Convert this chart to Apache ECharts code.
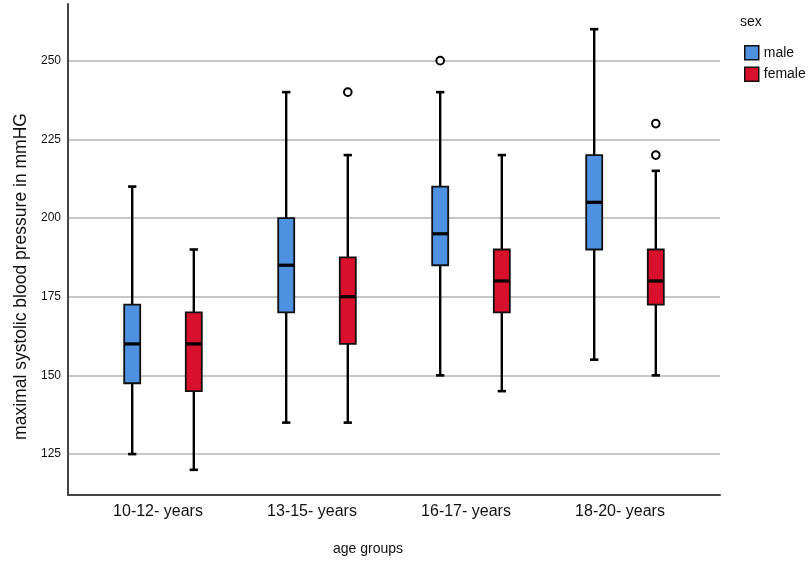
<!DOCTYPE html>
<html>
<head>
<meta charset="utf-8">
<script src="https://cdn.jsdelivr.net/npm/echarts@6/dist/echarts.min.js"></script>
<style>
html,body{margin:0;padding:0;background:#fff;}
#chart{width:810px;height:561px;}
</style>
</head>
<body>
<div id="chart"></div>
<script>
// ---- data ----
var categories = ['10-12- years', '13-15- years', '16-17- years', '18-20- years'];
var seriesNames = ['male', 'female'];
// [min, Q1, median, Q3, max]
var maleBoxes = [
  [125, 147.5, 160, 172.5, 210],
  [135, 170, 185, 200, 240],
  [150, 185, 195, 210, 240],
  [155, 190, 205, 220, 260]
];
var femaleBoxes = [
  [120, 145, 160, 170, 190],
  [135, 160, 175, 187.5, 220],
  [145, 170, 180, 190, 220],
  [150, 172.5, 180, 190, 215]
];
// [categoryIndex, value]
var maleOutliers = [[2, 250]];
var femaleOutliers = [[1, 240], [3, 230], [3, 220]];
var yTicks = [125, 150, 175, 200, 225, 250];

// ---- styling ----
var colors = { male: '#4d91e0', female: '#d8102b' };
var FONT = 'Liberation Sans, Arial, sans-serif';
var yMin = 112, yMax = 268;

function boxData(arr) {
  return arr.map(function (d, i) { return [i].concat(d); });
}

function makeBoxRender(offsetFrac) {
  return function (params, api) {
    var cat = api.value(0);
    var band = api.size([1, 0])[0];
    var cx = api.coord([cat, 0])[0] + offsetFrac * band;
    var yLo = api.coord([cat, api.value(1)])[1];
    var yQ1 = api.coord([cat, api.value(2)])[1];
    var yMed = api.coord([cat, api.value(3)])[1];
    var yQ3 = api.coord([cat, api.value(4)])[1];
    var yHi = api.coord([cat, api.value(5)])[1];
    var hw = band * 0.052;
    var cw = band * 0.027;
    var color = api.visual('color');
    var lineStyle = { stroke: '#000', lineWidth: 2.4 };
    return {
      type: 'group',
      children: [
        { type: 'line', shape: { x1: cx, y1: yHi, x2: cx, y2: yQ3 }, style: lineStyle },
        { type: 'line', shape: { x1: cx, y1: yQ1, x2: cx, y2: yLo }, style: lineStyle },
        { type: 'line', shape: { x1: cx - cw, y1: yHi, x2: cx + cw, y2: yHi }, style: { stroke: '#000', lineWidth: 2.6 } },
        { type: 'line', shape: { x1: cx - cw, y1: yLo, x2: cx + cw, y2: yLo }, style: { stroke: '#000', lineWidth: 2.6 } },
        { type: 'rect', shape: { x: cx - hw, y: yQ3, width: 2 * hw, height: yQ1 - yQ3 },
          style: { fill: color, stroke: '#111', lineWidth: 1.8 } },
        { type: 'line', shape: { x1: cx - hw, y1: yMed, x2: cx + hw, y2: yMed }, style: { stroke: '#000', lineWidth: 3.2 } }
      ]
    };
  };
}

function makeOutlierRender(offsetFrac) {
  return function (params, api) {
    var cat = api.value(0);
    var band = api.size([1, 0])[0];
    var p = api.coord([cat, api.value(1)]);
    return {
      type: 'circle',
      shape: { cx: p[0] + offsetFrac * band, cy: p[1], r: 3.8 },
      style: { fill: '#fff', stroke: '#000', lineWidth: 2 }
    };
  };
}

var chart = echarts.init(document.getElementById('chart'), null, { renderer: 'canvas' });
var option = {
  animation: false,
  backgroundColor: '#fff',
  textStyle: { fontFamily: FONT },
  title: {
    text: 'sex', left: 735, top: 10,
    textStyle: { fontSize: 14, fontWeight: 'normal', color: '#111', fontFamily: FONT }
  },
  legend: {
    orient: 'vertical', left: 739, top: 40,
    itemWidth: 14, itemHeight: 14, itemGap: 6,
    icon: 'rect',
    textStyle: { fontSize: 14, color: '#111', fontFamily: FONT },
    data: [
      { name: 'male', itemStyle: { color: colors.male, borderColor: '#111', borderWidth: 1.5 } },
      { name: 'female', itemStyle: { color: colors.female, borderColor: '#111', borderWidth: 1.5 } }
    ]
  },
  grid: [
    { left: 68, right: 90, top: 4, bottom: 66 },
    { left: 86, right: 108, top: 4, bottom: 66 }
  ],
  xAxis: [
    {
      gridIndex: 0, type: 'value', min: 0, max: 1,
      axisLine: { show: true, onZero: false, lineStyle: { color: '#444', width: 2 } },
      axisTick: { show: false }, axisLabel: { show: false }, splitLine: { show: false }
    },
    {
      gridIndex: 1, type: 'category', data: categories,
      axisLine: { show: false }, axisTick: { show: false },
      axisLabel: { fontSize: 16, color: '#111', margin: 9, fontFamily: FONT, padding: [0, 10, 0, 0] },
      name: 'age groups', nameLocation: 'middle', nameGap: 47,
      nameTextStyle: { fontSize: 14, color: '#111', fontFamily: FONT, padding: [0, 52, 0, 0] }
    }
  ],
  yAxis: [
    {
      gridIndex: 0, type: 'value', min: yMin, max: yMax,
      axisLine: { show: true, lineStyle: { color: '#444', width: 2 } },
      axisTick: { show: false, customValues: yTicks },
      axisLabel: { customValues: yTicks, fontSize: 12, color: '#111', margin: 7, fontFamily: FONT },
      splitLine: { show: true, lineStyle: { color: '#b4b4b4', width: 1.5 } },
      name: 'maximal systolic blood pressure in mmHG', nameLocation: 'middle', nameGap: 38,
      nameTextStyle: { fontSize: 17.5, color: '#111', fontFamily: FONT, padding: [0, 54, 0, 0] }
    },
    {
      gridIndex: 1, type: 'value', min: yMin, max: yMax, show: false,
      splitLine: { show: false }
    }
  ],
  series: [
    {
      name: 'male', type: 'custom', xAxisIndex: 1, yAxisIndex: 1,
      itemStyle: { color: colors.male },
      encode: { x: 0, y: [1, 2, 3, 4, 5] },
      renderItem: makeBoxRender(-0.2),
      data: boxData(maleBoxes)
    },
    {
      name: 'female', type: 'custom', xAxisIndex: 1, yAxisIndex: 1,
      itemStyle: { color: colors.female },
      encode: { x: 0, y: [1, 2, 3, 4, 5] },
      renderItem: makeBoxRender(0.2),
      data: boxData(femaleBoxes)
    },
    {
      name: 'male', type: 'custom', xAxisIndex: 1, yAxisIndex: 1,
      itemStyle: { color: colors.male },
      encode: { x: 0, y: 1 },
      renderItem: makeOutlierRender(-0.2),
      data: maleOutliers
    },
    {
      name: 'female', type: 'custom', xAxisIndex: 1, yAxisIndex: 1,
      itemStyle: { color: colors.female },
      encode: { x: 0, y: 1 },
      renderItem: makeOutlierRender(0.2),
      data: femaleOutliers
    }
  ]
};
chart.setOption(option);
</script>
</body>
</html>
